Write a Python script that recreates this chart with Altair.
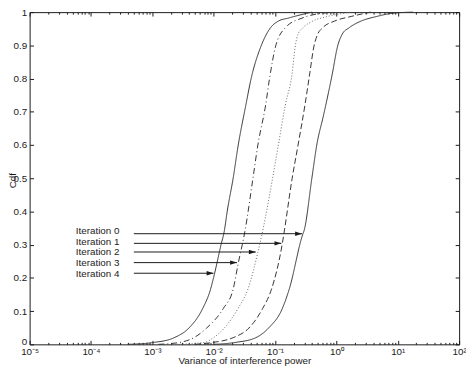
import json
import altair as alt
import pandas as pd

# ---------------- data ----------------
series_names = ["Iteration 0", "Iteration 1", "Iteration 2", "Iteration 3", "Iteration 4"]

it0_x = [0.01, 0.02317, 0.04853, 0.07834, 0.1315, 0.1702, 0.2851, 0.2958, 0.3981, 0.4786,
         0.6194, 0.8630, 1.0375, 1.247, 1.614, 2.518, 4.539, 8.492, 17.78]
it0_y = [0.0, 0.006, 0.02, 0.049, 0.108, 0.166, 0.333, 0.341, 0.5, 0.6,
         0.691, 0.817, 0.895, 0.934, 0.953, 0.973, 0.987, 0.997, 1.0]

it1_x = [0.005012, 0.00993, 0.02075, 0.0375, 0.06281, 0.0875, 0.1315, 0.1416, 0.1901, 0.2371,
         0.3069, 0.369, 0.4276, 0.4966, 0.597, 0.929, 1.738, 3.639]
it1_y = [0.0, 0.006, 0.02, 0.049, 0.108, 0.166, 0.304, 0.341, 0.5, 0.6,
         0.72, 0.817, 0.895, 0.934, 0.953, 0.973, 0.987, 1.0]

it2_x = [0.002512, 0.00713, 0.00993, 0.01489, 0.02495, 0.03614, 0.05248, 0.06281, 0.0912, 0.1132,
         0.1469, 0.1901, 0.2123, 0.2371, 0.2851, 0.4121, 0.7178, 1.738]
it2_y = [0.0, 0.006, 0.02, 0.049, 0.108, 0.166, 0.277, 0.341, 0.5, 0.6,
         0.72, 0.817, 0.895, 0.934, 0.953, 0.973, 0.987, 1.0]

it3_x = [0.001259, 0.002831, 0.00474, 0.00767, 0.01435, 0.02075, 0.02512, 0.03236, 0.04365, 0.05248,
         0.07015, 0.08128, 0.1014, 0.1469, 0.2748, 0.8318]
it3_y = [0.0, 0.006, 0.02, 0.049, 0.108, 0.166, 0.244, 0.341, 0.5, 0.6,
         0.72, 0.8, 0.895, 0.953, 0.982, 1.0]

it4_x = [0.000398, 0.001084, 0.00227, 0.00394, 0.00662, 0.00889, 0.00993, 0.01318, 0.01489, 0.0166,
         0.02075, 0.02512, 0.0334, 0.04074, 0.05834, 0.08433, 0.1132, 0.1641, 0.3981]
it4_y = [0.0, 0.006, 0.02, 0.049, 0.108, 0.166, 0.2, 0.3, 0.341, 0.4,
         0.5, 0.6, 0.72, 0.8, 0.895, 0.953, 0.973, 0.982, 1.0]

# annotation arrows
arrow_start = [5.0e-4, 5.0e-4, 5.0e-4, 5.0e-4, 5.0e-4]
arrow_tip = [0.2748, 0.1268, 0.0485, 0.0240, 0.00993]
arrow_y = [0.333, 0.304, 0.278, 0.246, 0.214]
label_x = [5.66e-5, 5.66e-5, 5.66e-5, 5.66e-5, 5.66e-5]
label_y = [0.341, 0.309, 0.277, 0.246, 0.213]

# axes
x_major_ticks = [1e-5, 1e-4, 1e-3, 1e-2, 1e-1, 1, 10, 100]
x_tick_labels = ["10\u207b\u2075", "10\u207b\u2074", "10\u207b\u00b3", "10\u207b\u00b2",
                 "10\u207b\u00b9", "10\u2070", "10\u00b9", "10\u00b2"]
x_minor_mult = [2, 3, 4, 5, 6, 7, 8, 9]
x_minor_ticks = [m * d for d in x_major_ticks[:-1] for m in x_minor_mult]
y_tick_values = [0, 0.1, 0.2, 0.3, 0.4, 0.5, 0.6, 0.7, 0.8, 0.9, 1.0]
y_tick_labels = ["0", "0.1", "0.2", "0.3", "0.4", "0.5", "0.6", "0.7", "0.8", "0.9", "1"]

x_title = "Variance of interference power"
y_title = "Cdf"

# ---------------- tables ----------------
rows = []
for name, xs, ys in zip(series_names, [it0_x, it1_x, it2_x, it3_x, it4_x],
                        [it0_y, it1_y, it2_y, it3_y, it4_y]):
    for xv, yv in zip(xs, ys):
        rows.append({"series": name, "x": xv, "y": yv})
curves = pd.DataFrame(rows)

arrows = pd.DataFrame({
    "label": series_names,
    "x0": arrow_start,
    "x1": arrow_tip,
    "y": arrow_y,
    "lx": label_x,
    "ly": label_y,
})

# ---------------- styling ----------------
FONT = "Liberation Sans"
INK = "#1a1a1a"
dash_styles = [[1, 0], [6, 3], [1, 2], [6, 3, 1, 3], [1, 0]]
line_colors = ["#333333", "#333333", "#666666", "#333333", "#333333"]

xscale = alt.Scale(type="log", domain=[1e-5, 100], nice=False)
yscale = alt.Scale(domain=[0, 1], nice=False)

x_label_expr = json.dumps(x_tick_labels, ensure_ascii=False) + "[round(log(datum.value)/LN10)+5]"
y_label_expr = json.dumps(y_tick_labels) + "[round(datum.value*10)]"

common = dict(domain=False, grid=False, tickColor=INK)

ax_bottom_major = alt.Axis(
    orient="bottom", values=x_major_ticks, labelExpr=x_label_expr,
    tickSize=4, offset=-4, labelPadding=2, labelFont=FONT, labelFontSize=10,
    labelColor=INK, labelFlush=False, labelOverlap=False,
    title=x_title, titleFont=FONT, titleFontSize=10, titleFontWeight="normal",
    titleColor=INK, titleY=16, titleBaseline="top", **common)
ax_bottom_minor = alt.Axis(
    orient="bottom", values=x_minor_ticks, labels=False, tickSize=2, offset=-2,
    title=None, **common)
ax_top_major = alt.Axis(
    orient="top", values=x_major_ticks, labels=False, tickSize=4, offset=-4,
    title=None, **common)
ax_top_minor = alt.Axis(
    orient="top", values=x_minor_ticks, labels=False, tickSize=2, offset=-2,
    title=None, **common)
ax_left = alt.Axis(
    orient="left", values=y_tick_values, labelExpr=y_label_expr,
    tickSize=4, offset=-4, labelPadding=3, labelFont=FONT, labelFontSize=10,
    labelColor=INK, labelOverlap=False,
    labelBaseline={"condition": {"test": "datum.value == 0", "value": "alphabetic"},
                   "value": "middle"},
    title=y_title, titleFont=FONT, titleFontSize=10, titleFontWeight="normal",
    titleColor=INK, titleAngle=270, titleBaseline="alphabetic", titleAlign="center",
    titleX=-18.5, titleY=171, **common)
ax_right = alt.Axis(
    orient="right", values=y_tick_values, labels=False, tickSize=4, offset=-4,
    title=None, **common)

lines = alt.Chart(curves).mark_line(
    interpolate="monotone", strokeWidth=1
).encode(
    x=alt.X("x:Q", scale=xscale, axis=ax_bottom_major),
    y=alt.Y("y:Q", scale=yscale, axis=ax_left),
    strokeDash=alt.StrokeDash("series:N", scale=alt.Scale(domain=series_names, range=dash_styles),
                              legend=None),
    color=alt.Color("series:N", scale=alt.Scale(domain=series_names, range=line_colors),
                    legend=None),
    detail="series:N",
)

rules = alt.Chart(arrows).mark_rule(color=INK, strokeWidth=1).encode(
    x=alt.X("x0:Q", scale=xscale, axis=ax_bottom_minor),
    x2="x1:Q",
    y=alt.Y("y:Q", scale=yscale, axis=ax_right),
)

heads = alt.Chart(arrows).mark_point(
    shape="M0,0L-1,-0.32L-1,0.32Z", size=196, filled=True, color=INK, opacity=1, strokeWidth=0
).encode(
    x=alt.X("x1:Q", scale=xscale, axis=ax_top_major),
    y=alt.Y("y:Q", scale=yscale, axis=None),
)

texts = alt.Chart(arrows).mark_text(
    align="left", baseline="middle", fontSize=10, font=FONT, color=INK
).encode(
    x=alt.X("lx:Q", scale=xscale, axis=ax_top_minor),
    y=alt.Y("ly:Q", scale=yscale, axis=None),
    text="label:N",
)

chart = alt.layer(lines, rules, heads, texts).resolve_axis(
    x="independent", y="independent"
).properties(
    width=437, height=338,
    padding={"left": 22, "top": 1, "right": 7, "bottom": 29},
    autosize=alt.AutoSizeParams(type="none"),
).configure_view(stroke=INK, strokeWidth=1)

chart.save("out.html", embed_options={"renderer": "svg", "actions": False})
